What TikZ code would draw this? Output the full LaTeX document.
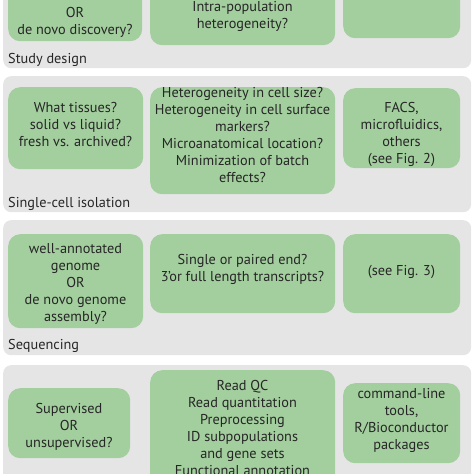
\documentclass[tikz,border=0pt]{standalone}
\usepackage{fontspec}
\setmainfont{PT Sans}
\definecolor{panelgray}{HTML}{E5E5E5}
\definecolor{boxgreen}{HTML}{A3CE9E}
\definecolor{txt}{HTML}{262626}
\tikzset{
  panel/.style={fill=panelgray, draw=none, rounded corners=8pt, anchor=north west, inner sep=0pt},
  gbox/.style={fill=boxgreen, draw=none, rounded corners=12pt, anchor=north west, inner sep=0pt},
  btext/.style={anchor=north, align=center, inner sep=0pt, text=txt, font=\fontsize{14.3}{17}\selectfont},
  ltext/.style={anchor=base west, inner sep=0pt, text=txt, font=\fontsize{14.3}{17}\selectfont},
}
\newcommand{\st}{\rule{0pt}{11pt}}
\begin{document}
\begin{tikzpicture}[x=1pt,y=-1pt]
\useasboundingbox (0,0) rectangle (474,474);
\clip (0,0) rectangle (474,474);
% panels
\node[panel, minimum width=468pt, minimum height=80pt] (p1) at (3,-12) {};
\node[panel, minimum width=468pt, minimum height=136pt] (p2) at (3,76) {};
\node[panel, minimum width=468pt, minimum height=135pt] (p3) at (3,220) {};
\node[panel, minimum width=468pt, minimum height=130pt] (p4) at (3,365) {};
% panel 1 boxes
\node[gbox, minimum width=134pt, minimum height=61pt] (a1) at (8,-20) {};
\node[gbox, minimum width=185pt, minimum height=65pt] (a2) at (150,-20) {};
\node[gbox, minimum width=117pt, minimum height=58pt] (a3) at (343,-20) {};
% panel 2 boxes
\node[gbox, minimum width=135pt, minimum height=82pt] (b1) at (8,87) {};
\node[gbox, minimum width=185pt, minimum height=107pt] (b2) at (150,87) {};
\node[gbox, minimum width=117pt, minimum height=80pt] (b3) at (343,88) {};
% panel 3 boxes
\node[gbox, minimum width=135pt, minimum height=94pt] (c1) at (8,234) {};
\node[gbox, minimum width=185pt, minimum height=79pt] (c2) at (150,234) {};
\node[gbox, minimum width=117pt, minimum height=79pt] (c3) at (343,234) {};
% panel 4 boxes
\node[gbox, minimum width=122pt, minimum height=70pt] (d1) at (8,388) {};
\node[gbox, minimum width=185pt, minimum height=130pt] (d2) at (150,370) {};
\node[gbox, minimum width=117pt, minimum height=80pt] (d3) at (343,383) {};
% texts panel 1
\node[btext] (ta1) at (75,17-11) {\st OR\\de novo discovery?};
\node[btext] (ta2) at (242.5,11-11) {\st Intra-population\\heterogeneity?};
\node[ltext] (la) at (8,63) {Study design};
% texts panel 2
\node[btext] (tb1) at (75.5,112-11) {\st What tissues?\\solid vs liquid?\\fresh vs. archived?};
\node[btext] (tb2) at (242.5,97-11) {\st Heterogeneity in cell size?\\Heterogeneity in cell surface\\markers?\\Microanatomical location?\\Minimization of batch\\effects?};
\node[btext] (tb3) at (401.5,112-11) {\st FACS,\\microfluidics,\\others\\(see Fig. 2)};
\node[ltext] (lb) at (8,207) {Single-cell isolation};
% texts panel 3
\node[btext] (tc1) at (75.5,253-11) {\st well-annotated\\genome\\OR\\de novo genome\\assembly?};
\node[btext] (tc2) at (242.5,264-11) {\st Single or paired end?\\3{\kern-0.5pt}’or full length transcripts?};
\node[btext] (tc3) at (401.5,275-11) {\st (see Fig. 3)};
\node[ltext] (lc) at (8,349) {Sequencing};
% texts panel 4
\node[btext] (td1) at (69,413-11) {\st Supervised\\OR\\unsupervised?};
\node[btext] (td2) at (242.5,390-11) {\st Read QC\\Read quantitation\\Preprocessing\\ID subpopulations\\and gene sets\\Functional annotation};
\node[btext] (td3) at (401.5,398-11) {\st command-line\\tools,\\R/Bioconductor\\packages};
\end{tikzpicture}
\end{document}
